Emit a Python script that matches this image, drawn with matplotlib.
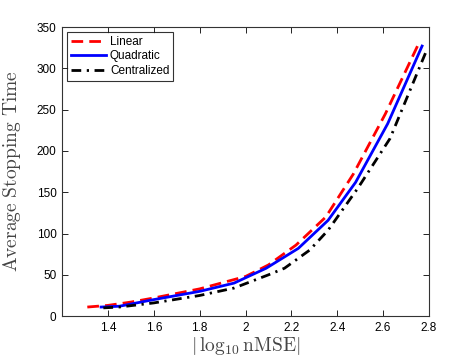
import matplotlib
matplotlib.use("Agg")
import matplotlib.pyplot as plt

plt.rcParams['font.family'] = ['Liberation Sans', 'DejaVu Sans']
plt.rcParams['mathtext.fontset'] = 'cm'

lin_x = [1.31, 1.40, 1.50, 1.60, 1.80, 2.00, 2.10, 2.22, 2.35, 2.47, 2.61, 2.75]
lin_y = [11, 13, 17, 22, 33, 48, 62, 86, 120, 172, 245, 327]
quad_x = [1.37, 1.45, 1.60, 1.80, 1.95, 2.09, 2.23, 2.36, 2.48, 2.62, 2.77]
quad_y = [11, 12, 20, 30, 40, 58, 82, 116, 162, 233, 327]
cen_x = [1.38, 1.45, 1.60, 1.80, 1.95, 2.10, 2.17, 2.28, 2.36, 2.49, 2.63, 2.79]
cen_y = [10, 11, 16, 25, 34, 50, 58, 80, 104, 155, 215, 322]

xticks = [1.4, 1.6, 1.8, 2.0, 2.2, 2.4, 2.6, 2.8]
xticklabels = ['1.4', '1.6', '1.8', '2', '2.2', '2.4', '2.6', '2.8']
yticks = [0, 50, 100, 150, 200, 250, 300, 350]

fig = plt.figure(figsize=(4.74, 3.56), dpi=100)
ax = fig.add_axes([0.131, 0.112, 0.774, 0.812])
ax.plot(lin_x, lin_y, color='#ff0000', linestyle=(0, (4.2, 2.2)), linewidth=2.0, label='Linear')
ax.plot(quad_x, quad_y, color='#0000ff', linestyle='-', linewidth=2.0, label='Quadratic')
ax.plot(cen_x, cen_y, color='black', linestyle=(0, (3.5, 2, 0.8, 2)), linewidth=2.0, label='Centralized')

ax.set_xlim(1.2, 2.8)
ax.set_ylim(0, 350)
ax.set_xticks(xticks)
ax.set_xticklabels(xticklabels)
ax.set_yticks(yticks)
ax.tick_params(direction='in', top=True, right=True, labelsize=8.5, length=4, width=0.6, pad=4)
for s in ax.spines.values():
    s.set_linewidth(0.8)
    s.set_color('#333333')

ax.set_xlabel(r'$|\,\log_{10}\mathrm{nMSE}|$', fontsize=14, color='#444444', labelpad=1)
ax.set_ylabel(r'$\mathrm{Average\ Stopping\ Time}$', fontsize=14, color='#444444', labelpad=10)

leg = ax.legend(loc='upper left', fontsize=8.5, frameon=True, fancybox=False,
                edgecolor='black', handlelength=3.0, handletextpad=0.3,
                borderpad=0.35, labelspacing=0.2, borderaxespad=0.4)
leg.get_frame().set_linewidth(0.8)

fig.savefig('out.png', dpi=100)
